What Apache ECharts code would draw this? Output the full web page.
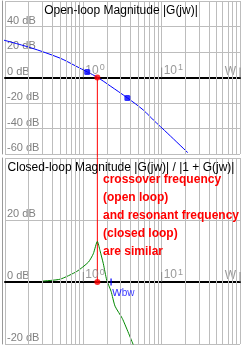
<!DOCTYPE html>
<html>
<head>
<meta charset="utf-8">
<script src="https://cdn.jsdelivr.net/npm/echarts@6/dist/echarts.min.js"></script>
<style>
html, body { margin: 0; padding: 0; background: #fff; }
#chart { width: 242px; height: 346px; }
</style>
</head>
<body>
<div id="chart"></div>
<script>
// open loop |G(jw)| in dB
const openW = [0.0863, 0.209, 0.504, 0.8, 1.12, 1.51, 2.2, 3.65, 5.83, 7.83, 12, 21.6];
const openDb = [30.1, 23.5, 15.2, 9.0, 4.4, 0.2, -6.6, -16, -25.5, -33.3, -44, -59];
// the two blue marks on the open loop curve
const openMarkW = [1.12, 3.65];
const openMarkDb = [4.4, -16];
// closed loop |G|/|1+G| in dB
const closedW = [0.303, 0.504, 0.824, 1.16, 1.34, 1.51, 1.63, 1.80, 1.99, 2.26, 2.54, 3.15, 4.35];
const closedDb = [0.3, 0.9, 3.4, 6.4, 9.1, 13.1, 10.2, 5.9, 0.6, -3.0, -7.8, -11.8, -20.3];
// crossover / resonant frequency and bandwidth
const crossW = 1.51;
const bwW = 2.26;
// ticks
const decadeVals = [1, 10];
const decadeExps = ["0", "1"];
const tickVals = [1, 10, 100];
const axisEndW = 100;
const gridFreqs = [0.2, 0.3, 0.4, 0.5, 0.6, 0.7, 0.8, 0.9,
  2, 3, 4, 5, 6, 7, 8, 9,
  20, 30, 40, 50, 60, 70, 80, 90];
const noteLines = ["crossover frequency", "(open loop)", "and resonant frequency", "(closed loop)", "are similar"];

const font = '"Liberation Sans", Arial, sans-serif';
const gray = "#bdbdbd";
const labelGray = "#808080";

function xAxisFor(gi) {
  return {
    type: "log",
    logBase: 10,
    gridIndex: gi,
    min: 0.1,
    max: 100,
    axisLine: { onZero: true, lineStyle: { color: "#000", width: 2 } },
    axisTick: { show: false },
    axisLabel: { show: false },
    splitLine: { show: true, lineStyle: { color: gray, width: 1 } }
  };
}

function yAxisFor(gi, min, max, hidden) {
  return {
    type: "value",
    gridIndex: gi,
    min: min,
    max: max,
    interval: 20,
    offset: 3,
    axisLine: { show: true, onZero: false, lineStyle: { color: "#999", width: 1 } },
    axisTick: { show: false },
    axisLabel: {
      inside: true,
      margin: 5,
      align: "left",
      verticalAlign: "bottom",
      lineHeight: 12,
      fontSize: 11,
      color: labelGray,
      fontFamily: font,
      formatter: function (v) { return v === hidden ? "" : v + " dB"; }
    },
    splitLine: { show: true, lineStyle: { color: gray, width: 1 } }
  };
}

function minorGrid(gi) {
  return {
    type: "line",
    xAxisIndex: gi,
    yAxisIndex: gi,
    data: [],
    silent: true,
    z: 1,
    markLine: {
      silent: true,
      animation: false,
      symbol: ["none", "none"],
      label: { show: false },
      emphasis: { disabled: true },
      lineStyle: { color: gray, type: "solid", width: 1 },
      data: gridFreqs.map(f => ({ xAxis: f }))
    }
  };
}

// ticks and "10^n" / "W" labels sitting on the 0 dB line
function zeroLineMarks(gi) {
  return [
    {
      type: "scatter",
      xAxisIndex: gi,
      yAxisIndex: gi,
      data: tickVals.map(v => [v, 0]),
      symbol: "rect",
      symbolSize: [1, 10],
      symbolOffset: [0, -5],
      silent: true,
      z: 4,
      itemStyle: { color: "#777" }
    },
    {
      type: "scatter",
      xAxisIndex: gi,
      yAxisIndex: gi,
      data: decadeVals.map(v => [v, 0]),
      symbolSize: 1,
      silent: true,
      z: 4,
      itemStyle: { color: "transparent" },
      label: {
        show: true,
        position: [0.5, 0.5],
        align: "left",
        verticalAlign: "bottom",
        formatter: function (p) {
          return "{b|10}{s|" + decadeExps[p.dataIndex] + "}";
        },
        rich: {
          b: { fontSize: 12, lineHeight: 14, color: labelGray, fontFamily: font, padding: [0, 0, 0, 2] },
          s: { fontSize: 9, lineHeight: 5, verticalAlign: "top", color: labelGray, fontFamily: font, padding: [0, 0, 0, 1] }
        }
      }
    },
    {
      type: "scatter",
      xAxisIndex: gi,
      yAxisIndex: gi,
      data: [[axisEndW, 0]],
      symbolSize: 1,
      silent: true,
      z: 4,
      itemStyle: { color: "transparent" },
      label: {
        show: true,
        position: [-3.5, 0.5],
        align: "right",
        verticalAlign: "bottom",
        formatter: "W",
        fontSize: 12,
        lineHeight: 12,
        color: labelGray,
        fontFamily: font
      }
    }
  ];
}

let chart = echarts.init(document.getElementById("chart"));
chart.setOption({
  animation: false,
  backgroundColor: "#fff",
  textStyle: { fontFamily: font },
  title: [
    {
      text: "Open-loop Magnitude |G(jw)|",
      left: "center", top: 4, padding: 0,
      textStyle: { fontSize: 12, fontWeight: "normal", color: "#000", fontFamily: font, lineHeight: 14 }
    },
    {
      text: "Closed-loop Magnitude |G(jw)| / |1 + G(jw)|",
      left: "center", top: 161, padding: 0,
      textStyle: { fontSize: 12, fontWeight: "normal", color: "#000", fontFamily: font, lineHeight: 14 }
    }
  ],
  grid: [
    { left: 5, right: 2, top: 1, height: 153, containLabel: false, outerBoundsMode: "none" },
    { left: 5, right: 2, top: 158, height: 186, containLabel: false, outerBoundsMode: "none" }
  ],
  xAxis: [xAxisFor(0), xAxisFor(1)],
  yAxis: [yAxisFor(0, -60, 60, 60), yAxisFor(1, -20, 40, 40)],
  graphic: [
    {
      type: "text",
      left: 103,
      top: 171,
      z: 20,
      style: {
        text: noteLines.join("\n"),
        fill: "#ff0000",
        font: 'bold 12px "Liberation Sans", Arial, sans-serif',
        lineHeight: 18
      }
    }
  ],
  series: [
    minorGrid(0),
    minorGrid(1),
    ...zeroLineMarks(0),
    ...zeroLineMarks(1),
    {
      type: "line",
      xAxisIndex: 0,
      yAxisIndex: 0,
      data: openW.map((w, i) => [w, openDb[i]]),
      showSymbol: false,
      smooth: 0.3,
      clip: false,
      silent: true,
      z: 3,
      lineStyle: { color: "#0000ff", width: 1 }
    },
    {
      type: "scatter",
      xAxisIndex: 0,
      yAxisIndex: 0,
      data: openMarkW.map((w, i) => [w, openMarkDb[i]]),
      symbol: "roundRect",
      symbolSize: 6,
      silent: true,
      z: 5,
      itemStyle: { color: "#0000ff" }
    },
    {
      type: "line",
      xAxisIndex: 0,
      yAxisIndex: 0,
      data: [[crossW, 0], [crossW, -63]],
      showSymbol: false,
      clip: false,
      silent: true,
      z: 3,
      lineStyle: { color: "#ff0000", width: 1 }
    },
    {
      type: "line",
      xAxisIndex: 1,
      yAxisIndex: 1,
      data: [[crossW, 40], [crossW, 0]],
      showSymbol: false,
      silent: true,
      z: 3,
      lineStyle: { color: "#ff0000", width: 1 }
    },
    {
      type: "line",
      xAxisIndex: 1,
      yAxisIndex: 1,
      data: closedW.map((w, i) => [w, closedDb[i]]),
      showSymbol: false,
      smooth: 0.2,
      silent: true,
      z: 3,
      lineStyle: { color: "#008800", width: 1 }
    },
    {
      type: "scatter",
      xAxisIndex: 0,
      yAxisIndex: 0,
      data: [[crossW, 0]],
      symbolSize: 6,
      silent: true,
      z: 6,
      itemStyle: { color: "#ff0000" }
    },
    {
      type: "scatter",
      xAxisIndex: 1,
      yAxisIndex: 1,
      data: [[crossW, 0]],
      symbolSize: 6,
      silent: true,
      z: 6,
      itemStyle: { color: "#ff0000" }
    },
    {
      type: "scatter",
      xAxisIndex: 1,
      yAxisIndex: 1,
      data: [[bwW, 0]],
      symbol: "rect",
      symbolSize: [1.5, 7],
      silent: true,
      z: 6,
      itemStyle: { color: "#0000ff" },
      label: {
        show: true,
        position: [2, 7.5],
        align: "left",
        verticalAlign: "top",
        formatter: "{a|w}{b|bw}",
        rich: {
          a: { fontSize: 13, lineHeight: 12, color: "#0000ff", fontFamily: font },
          b: { fontSize: 10, lineHeight: 4, verticalAlign: "bottom", color: "#0000ff", fontFamily: font }
        }
      }
    }
  ]
});
</script>
</body>
</html>
